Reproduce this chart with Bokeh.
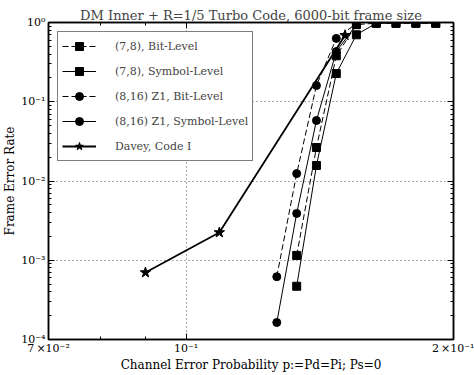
from bokeh.plotting import figure
from bokeh.models import (FixedTicker, Range1d, LogAxis, Legend, LegendItem,
                          CustomJSTickFormatter)
from bokeh.embed import file_html
from bokeh.resources import INLINE

# ---------------- data ----------------
p_78 = [0.1332, 0.1402, 0.1476, 0.1555, 0.1637, 0.1723, 0.1814, 0.1910]
fer_78_bit = [1.15e-3, 2.65e-2, 0.38, 0.94, 0.98, 0.98, 0.98, 0.98]
fer_78_sym = [4.7e-4, 1.57e-2, 0.227, 0.70, 0.98, 0.98, 0.98, 0.98]

p_z1 = [0.1265, 0.1332, 0.1402, 0.1476, 0.1555]
fer_z1_bit = [6.2e-4, 1.24e-2, 0.16, 0.63, 0.97]
fer_z1_sym = [1.64e-4, 3.9e-3, 5.8e-2, 0.43, 0.94]

p_davey = [0.09, 0.109, 0.151]
fer_davey = [7.0e-4, 2.24e-3, 0.69]

labels = ["(7,8), Bit-Level", "(7,8), Symbol-Level", "(8,16) Z1, Bit-Level",
          "(8,16) Z1, Symbol-Level", "Davey, Code I"]

title_text = "DM Inner + R=1/5 Turbo Code, 6000-bit frame size"
x_label = "Channel Error Probability p:=Pd=Pi; Ps=0"
y_label = "Frame Error Rate"

x_major = [0.07, 0.1, 0.2]
x_minor = [0.08, 0.09]
y_major = [1e-4, 1e-3, 1e-2, 1e-1, 1.0]
y_minor = [m * 10.0 ** e for e in range(-4, 0) for m in range(2, 10)]

FONT = "DejaVu Serif"

p = figure(width=474, height=375, x_axis_type="log", y_axis_type="log",
           x_range=Range1d(0.07, 0.2), y_range=Range1d(1e-4, 1.0),
           output_backend="svg", toolbar_location=None,
           min_border_left=45, min_border_right=21, min_border_top=22,
           min_border_bottom=36, title=title_text)
p.background_fill_color = "white"
p.border_fill_color = "white"
p.outline_line_color = "black"
p.outline_line_width = 1.5

p.title.text_font = FONT
p.title.text_font_size = "13px"
p.title.text_font_style = "normal"
p.title.align = "center"
p.title.standoff = 0

xt = FixedTicker(ticks=x_major, minor_ticks=x_minor)
yt = FixedTicker(ticks=y_major, minor_ticks=y_minor)

fmt = CustomJSTickFormatter(code="""
const sup = {"-":"\u207b","0":"\u2070","1":"\u00b9","2":"\u00b2","3":"\u00b3","4":"\u2074",
             "5":"\u2075","6":"\u2076","7":"\u2077","8":"\u2078","9":"\u2079"};
const e = Math.floor(Math.log10(tick) + 1e-9);
const m = Math.round(tick / Math.pow(10, e));
const s = String(e).split("").map(c => sup[c]).join("");
return (m == 1 ? "" : m + "\u2009\u00d7") + "10" + s;
""")
blank = CustomJSTickFormatter(code="return '';")

def style_axis(ax, size="11px"):
    ax.axis_line_color = "black"
    ax.axis_line_width = 1.5
    ax.major_tick_in = 6
    ax.major_tick_out = 0
    ax.minor_tick_in = 3
    ax.minor_tick_out = 0
    ax.major_tick_line_color = "black"
    ax.minor_tick_line_color = "black"
    ax.major_label_text_font = FONT
    ax.major_label_text_color = "black"
    ax.major_label_text_font_size = size
    ax.axis_label_text_font = FONT
    ax.axis_label_text_font_size = "12px"
    ax.axis_label_text_font_style = "normal"
    ax.axis_label_text_color = "black"

p.xaxis.ticker = xt
p.yaxis.ticker = yt
p.xaxis.formatter = fmt
p.yaxis.formatter = fmt
style_axis(p.xaxis[0])
style_axis(p.yaxis[0])
p.xaxis.major_label_standoff = 2
p.yaxis.major_label_standoff = 3
p.xaxis.axis_label = x_label
p.yaxis.axis_label = y_label
p.xaxis.axis_label_standoff = 0
p.yaxis.axis_label_standoff = 1

top_ax = LogAxis(ticker=xt, formatter=blank)
right_ax = LogAxis(ticker=yt, formatter=blank)
for ax in (top_ax, right_ax):
    style_axis(ax, "1px")
    ax.major_label_standoff = 0
p.add_layout(top_ax, "above")
p.add_layout(right_ax, "right")

for g, t in ((p.xgrid, xt), (p.ygrid, yt)):
    g.ticker = t
    g.grid_line_color = "#555555"
    g.grid_line_dash = "1 3"
    g.grid_line_width = 1

l1 = p.line(p_78, fer_78_bit, line_color="black", line_width=1, line_dash="6 3")
m1 = p.scatter(p_78, fer_78_bit, marker="square", size=8, color="black")
l2 = p.line(p_78, fer_78_sym, line_color="black", line_width=1)
m2 = p.scatter(p_78, fer_78_sym, marker="square", size=8, color="black")
l3 = p.line(p_z1, fer_z1_bit, line_color="black", line_width=1, line_dash="6 3")
m3 = p.scatter(p_z1, fer_z1_bit, marker="circle", size=8, color="black")
l4 = p.line(p_z1, fer_z1_sym, line_color="black", line_width=1)
m4 = p.scatter(p_z1, fer_z1_sym, marker="circle", size=8, color="black")
l5 = p.line(p_davey, fer_davey, line_color="black", line_width=1.8)
m5 = p.scatter(p_davey, fer_davey, marker="star", size=11, color="black")

legend = Legend(items=[
    LegendItem(label=labels[0], renderers=[l1, m1]),
    LegendItem(label=labels[1], renderers=[l2, m2]),
    LegendItem(label=labels[2], renderers=[l3, m3]),
    LegendItem(label=labels[3], renderers=[l4, m4]),
    LegendItem(label=labels[4], renderers=[l5, m5]),
], location="top_left")
legend.margin = 9
legend.padding = 4
legend.spacing = 5
legend.glyph_width = 34
legend.glyph_height = 20
legend.label_height = 20
legend.label_standoff = 19
legend.label_text_font = FONT
legend.label_text_font_size = "11px"
legend.border_line_color = "black"
legend.border_line_width = 1
legend.background_fill_color = "white"
legend.background_fill_alpha = 1.0
p.add_layout(legend)

open("out.html", "w").write(file_html(p, INLINE))
